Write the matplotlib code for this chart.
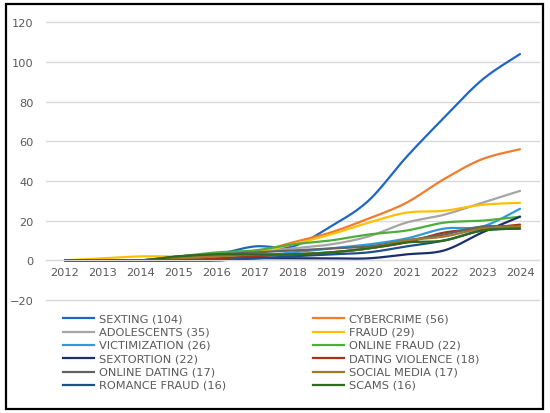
import numpy as np
import matplotlib
matplotlib.use("Agg")
import matplotlib.pyplot as plt
from matplotlib.lines import Line2D
from matplotlib.patches import Rectangle

years = [2012, 2013, 2014, 2015, 2016, 2017, 2018, 2019, 2020, 2021, 2022, 2023, 2024]

sexting = [0, 0, 0, 1, 3, 7, 7, 17, 30, 52, 72, 91, 104]
cybercrime = [0, 0, 0, 1, 2, 4, 9, 14, 21, 29, 41, 51, 56]
adolescents = [0, 0, 0, 1, 2, 4, 6, 8, 12, 19, 23, 29, 35]
fraud = [0, 1, 2, 2, 3, 4, 8, 13, 19, 24, 25, 28, 29]
victimization = [0, 0, 0, 0, 1, 2, 4, 6, 8, 11, 16, 17, 26]
online_fraud = [0, 0, 0, 2, 4, 5, 8, 10, 13, 15, 19, 20, 22]
sextortion = [0, 0, 0, 0, 0, 1, 1, 1, 1, 3, 5, 14, 22]
dating_violence = [0, 0, 0, 0, 1, 2, 3, 4, 6, 9, 14, 16, 18]
online_dating = [0, 0, 0, 2, 3, 4, 5, 6, 7, 10, 13, 17, 17]
social_media = [0, 0, 0, 1, 2, 3, 3, 4, 6, 10, 12, 16, 17]
romance_fraud = [0, 0, 0, 0, 0, 1, 2, 3, 4, 7, 10, 15, 16]
scams = [0, 0, 0, 2, 3, 3, 3, 4, 6, 9, 10, 15, 16]

labels = ["SEXTING (104)", "CYBERCRIME (56)", "ADOLESCENTS (35)", "FRAUD (29)",
          "VICTIMIZATION (26)", "ONLINE FRAUD (22)", "SEXTORTION (22)",
          "DATING VIOLENCE (18)", "ONLINE DATING (17)", "SOCIAL MEDIA (17)",
          "ROMANCE FRAUD (16)", "SCAMS (16)"]
series = [sexting, cybercrime, adolescents, fraud, victimization, online_fraud,
          sextortion, dating_violence, online_dating, social_media,
          romance_fraud, scams]
colors = ["#1F66C2", "#F47B2A", "#A5A5A5", "#FFC000", "#2E9BD8", "#4CAF3C",
          "#1A2F6B", "#A3341A", "#636363", "#A07A2A", "#1E4F8A", "#2E6B1E"]


def smooth(xs, ys, n=24):
    # excel-like smoothed line (bezier through the points)
    pts = np.column_stack([xs, ys]).astype(float)
    pad = np.vstack([pts[0], pts, pts[-1]])
    out = []
    t = np.linspace(0, 1, n)[:, None]
    for i in range(len(pts) - 1):
        p0, p1, p2, p3 = pad[i:i + 4]
        c1 = p1 + (p2 - p0) / 6
        c2 = p2 - (p3 - p1) / 6
        seg = (1 - t)**3 * p1 + 3 * (1 - t)**2 * t * c1 + 3 * (1 - t) * t**2 * c2 + t**3 * p2
        out.append(seg if i == 0 else seg[1:])
    return np.vstack(out)


W, H = 550, 414
fig = plt.figure(figsize=(W / 100, H / 100), dpi=100)
plt.rcParams['font.family'] = ['DejaVu Sans']
fs = 8.2

ax = fig.add_axes([46 / W, 1 - 301 / H, (539 - 46) / W, (301 - 23.3) / H])
xs = np.arange(len(years))
for vals, col in zip(series, colors):
    c = smooth(xs, vals)
    ax.plot(c[:, 0], c[:, 1], color=col, lw=1.6, solid_capstyle='round')

ax.set_xlim(-0.5, len(years) - 0.5)
ax.set_ylim(-20, 120)
ax.set_yticks(range(-20, 121, 20))
ax.set_xticks(xs)
ax.set_xticklabels([str(y) for y in years])
ax.grid(axis='y', color='#D9D9D9', lw=1)
for gl in ax.get_ygridlines():
    gl.set_clip_on(False)
ax.set_axisbelow(True)
for s in ['top', 'right', 'left']:
    ax.spines[s].set_visible(False)
ax.spines['bottom'].set_position(('data', 0))
ax.spines['bottom'].set_color('#D9D9D9')
ax.tick_params(axis='both', length=0, labelsize=fs, labelcolor='#595959')
ax.tick_params(axis='y', pad=9)
ax.tick_params(axis='x', pad=5)

# legend drawn by hand, two columns
for i, (lab, col) in enumerate(zip(labels, colors)):
    x0 = 63 if i % 2 == 0 else 313
    y = 319.3 + 13.33 * (i // 2)
    fig.add_artist(Line2D([x0 / W, (x0 + 31) / W], [1 - y / H, 1 - y / H],
                          color=col, lw=1.6, transform=fig.transFigure))
    fig.text((x0 + 36) / W, 1 - y / H, lab, fontsize=fs, color='#595959',
             va='center', ha='left')

fig.add_artist(Rectangle((6 / W, 1 - 410 / H), (543 - 6) / W, (410 - 5) / H,
                         fill=False, edgecolor='black', lw=1.6,
                         transform=fig.transFigure))

fig.savefig("out.png", dpi=100)
